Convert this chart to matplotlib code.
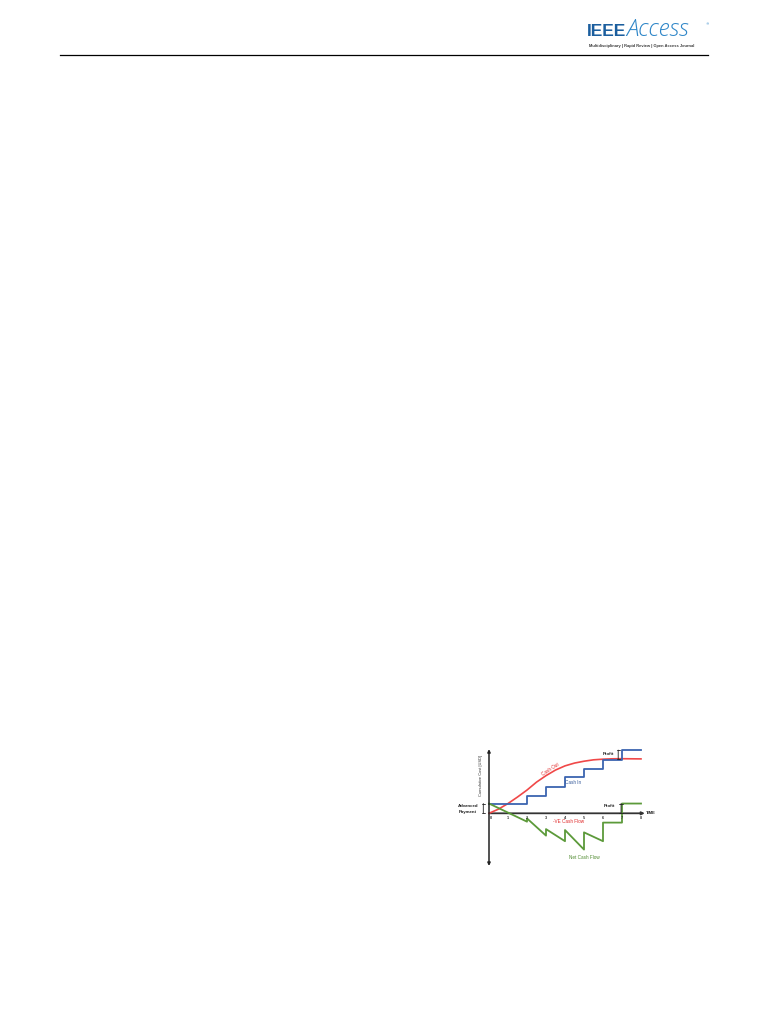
import matplotlib
matplotlib.use("Agg")
import matplotlib.pyplot as plt

# ---------------- data ----------------
time_ticks = [0, 1, 2, 3, 4, 5, 6, 7, 8]
tick_labels = ["0", "1", "2", "3", "4", "5", "6", "7", "8"]

# cumulative cash out (S-curve)
cash_out_x = [0, 0.5, 1, 1.5, 2, 2.5, 3, 3.5, 4, 4.5, 5, 5.5, 6, 6.5, 7, 7.5, 8]
cash_out_y = [0, 0.45, 1.05, 1.75, 2.5, 3.35, 4.05, 4.65, 5.1, 5.4, 5.6, 5.75, 5.82, 5.86, 5.87, 5.86, 5.85]

# cumulative cash in (step payments)
cash_in_x = [0, 2, 3, 4, 5, 6, 7, 8]
cash_in_y = [1.05, 1.9, 2.85, 3.85, 4.8, 5.7, 6.8, 6.8]

# net cash flow
net_x = [0, 2, 2, 3, 3, 4, 4, 5, 5, 6, 6, 7, 7, 8]
net_y = [1.05, -0.9, -0.55, -2.4, -1.7, -3.0, -1.8, -3.9, -2.05, -3.0, -1.0, -1.0, 1.05, 1.05]

W, H = 768, 1024
fig = plt.figure(figsize=(W / 100, H / 100), dpi=100)
fig.patch.set_facecolor("white")

def fx(px):
    return px / W

def fy(py):
    return 1 - py / H

SANS = ["Liberation Sans", "DejaVu Sans"]

# ---------------- header ----------------
fig.text(fx(587), fy(35.5), "IEEE", fontsize=12.5, fontweight="bold",
         color="#1B5E9E", family=SANS, ha="left", va="baseline")
fig.text(fx(626), fy(35.5), "Access", fontsize=17, style="italic", fontweight="light",
         color="#2E86C8", family=["Open Sans", "DejaVu Sans"], ha="left", va="baseline")
fig.text(fx(706), fy(24), "®", fontsize=2.5, color="#2E86C8", ha="left", va="center")
fig.text(fx(589), fy(45.5), "Multidisciplinary | Rapid Review | Open Access Journal",
         fontsize=2.9, fontweight="bold", color="#3A3A3A", family=SANS,
         ha="left", va="center")
fig.add_artist(plt.Line2D([fx(60), fx(708)], [fy(54.5), fy(54.5)], color="black", lw=0.9))

# ---------------- chart ----------------
left_px, right_px, top_px, bot_px = 445, 665, 745, 870
ax = fig.add_axes([fx(left_px), fy(bot_px), (right_px - left_px) / W, (bot_px - top_px) / H])
x0_px, xs = 489.0, 19.0
y0_px, ys = 813.3, 9.3
ax.set_xlim((left_px - x0_px) / xs, (right_px - x0_px) / xs)
ax.set_ylim((y0_px - bot_px) / ys, (y0_px - top_px) / ys)
ax.axis("off")

red = "#F04848"
blue = "#3B64B0"
green = "#5C9A3A"

ax.plot(cash_out_x, cash_out_y, color=red, lw=1.2, zorder=3)
ax.step(cash_in_x, cash_in_y, where="post", color=blue, lw=1.3, zorder=3)
ax.plot(net_x, net_y, color=green, lw=1.3, zorder=3)

# axes arrows
ax.annotate("", xy=(0, 6.9), xytext=(0, -5.66),
            arrowprops=dict(arrowstyle="<|-|>", lw=1.1, color="#222222",
                            mutation_scale=4, shrinkA=0, shrinkB=0), zorder=4)
ax.annotate("", xy=(8.2, 0), xytext=(0, 0),
            arrowprops=dict(arrowstyle="-|>", lw=1.3, color="#333333",
                            mutation_scale=4, shrinkA=0, shrinkB=0), zorder=2)

for t, lab in zip(time_ticks, tick_labels):
    ax.text(t + (0.08 if t == 0 else 0), -0.47, lab, fontsize=2.8, fontweight="bold",
            color="#333333", family=SANS, ha="center", va="center")
ax.text(8.5, 0.0, "TIME", fontsize=3.0, fontweight="bold", color="#222222",
        family=SANS, ha="center", va="center")

ax.text(-0.42, 4.1, "Cumulative Cost [USD]", fontsize=2.9, rotation=90,
        color="#333333", family=SANS, ha="center", va="center")

# advanced payment
ax.text(-1.1, 0.82, "Advanced", fontsize=3.2, fontweight="bold", color="#222222",
        family=SANS, ha="center", va="center")
ax.text(-1.1, 0.12, "Payment", fontsize=3.2, fontweight="bold", color="#222222",
        family=SANS, ha="center", va="center")
ax.annotate("", xy=(-0.3, 1.05), xytext=(-0.3, 0.0),
            arrowprops=dict(arrowstyle="|-|,widthA=0.12,widthB=0.12", lw=0.6,
                            color="#222222", shrinkA=0, shrinkB=0))

# profits
ax.text(6.26, 6.38, "Profit", fontsize=3.2, fontweight="bold", color="#222222",
        family=SANS, ha="center", va="center")
ax.annotate("", xy=(6.8, 6.8), xytext=(6.8, 5.84),
            arrowprops=dict(arrowstyle="|-|,widthA=0.12,widthB=0.12", lw=0.6,
                            color="#222222", shrinkA=0, shrinkB=0))
ax.text(6.34, 0.82, "Profit", fontsize=3.2, fontweight="bold", color="#222222",
        family=SANS, ha="center", va="center")
ax.annotate("", xy=(6.95, 1.05), xytext=(6.95, 0.0),
            arrowprops=dict(arrowstyle="|-|,widthA=0.12,widthB=0.12", lw=0.6,
                            color="#222222", shrinkA=0, shrinkB=0))

# series labels
ax.text(3.26, 4.7, "Cash Out", fontsize=3.3, color="#E02828", rotation=33,
        family=SANS, ha="center", va="center")
ax.text(4.42, 3.33, "Cash In", fontsize=3.3, color="#2F5597", family=SANS,
        ha="center", va="center")
ax.text(4.19, -0.9, "-VE Cash Flow", fontsize=3.3, color="#E02828", family=SANS,
        ha="center", va="center")
ax.text(5.02, -4.74, "Net Cash Flow", fontsize=3.3, color="#4E8A2E", family=SANS,
        ha="center", va="center")

fig.savefig("out.png", dpi=100, facecolor="white")
